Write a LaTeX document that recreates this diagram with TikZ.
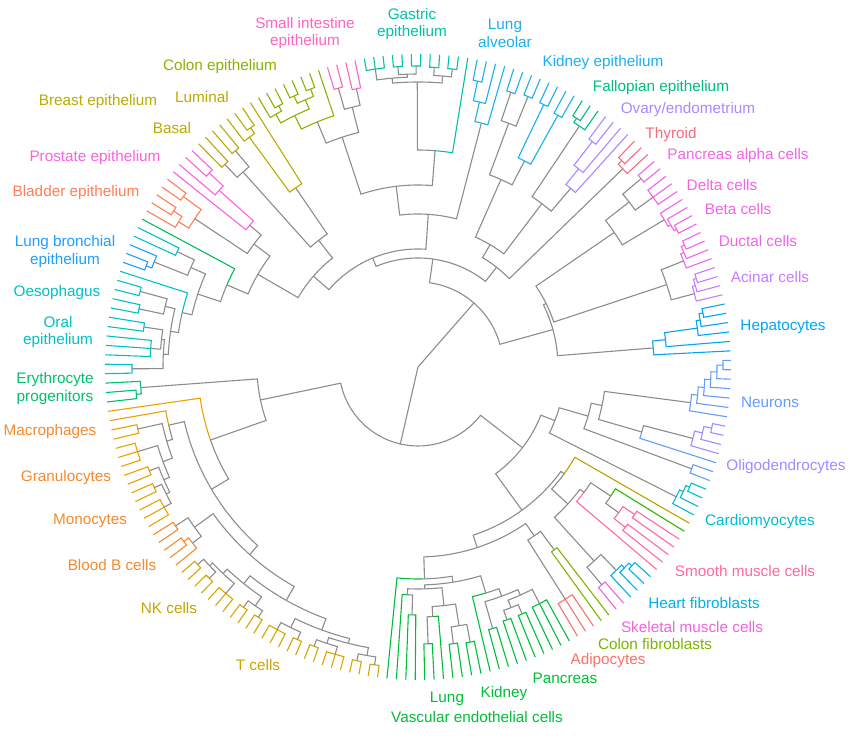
\documentclass[tikz,border=0pt]{standalone}
\usepackage{fontspec}
\setmainfont{Liberation Sans}
\usetikzlibrary{positioning}

\definecolor{gry}{HTML}{8C8C8C}
\definecolor{vasc}{HTML}{00BE3A}
\definecolor{adipo}{HTML}{FA7268}
\definecolor{colfib}{HTML}{7CB400}
\definecolor{skel}{HTML}{F262DC}
\definecolor{heartf}{HTML}{00B2E6}
\definecolor{smooth}{HTML}{FF6A9A}
\definecolor{grnlf}{HTML}{2DB800}
\definecolor{olvlf}{HTML}{B5A400}
\definecolor{cardio}{HTML}{00BDD0}
\definecolor{neur}{HTML}{619CFF}
\definecolor{oligo}{HTML}{9B8FFF}
\definecolor{hep}{HTML}{00A6F5}
\definecolor{acin}{HTML}{C97BFF}
\definecolor{panc}{HTML}{F364E8}
\definecolor{thyr}{HTML}{F96A7C}
\definecolor{ovary}{HTML}{AA88FF}
\definecolor{fallop}{HTML}{00BE7A}
\definecolor{kid}{HTML}{1AB0EE}
\definecolor{gast}{HTML}{00C2A8}
\definecolor{sint}{HTML}{FF64C0}
\definecolor{colep}{HTML}{8AB200}
\definecolor{breast}{HTML}{BBAA00}
\definecolor{prost}{HTML}{FA62DF}
\definecolor{bladd}{HTML}{FF7D57}
\definecolor{grnsg}{HTML}{00BF5A}
\definecolor{oesoph}{HTML}{00C1C7}
\definecolor{bronch}{HTML}{1E9EFF}
\definecolor{ery}{HTML}{00C06E}
\definecolor{myel}{HTML}{E9A200}
\definecolor{myelab}{HTML}{F58A2C}
\definecolor{bcell}{HTML}{F58A2C}
\definecolor{nkt}{HTML}{D4A800}
\definecolor{nktlab}{HTML}{C8A400}

\newcommand\labfont{\fontsize{15.3}{17.5}\selectfont}

\newcommand\setnd[4]{%
  \expandafter\xdef\csname ndi-#1\endcsname{#2}%
  \expandafter\xdef\csname ndr-#1\endcsname{#3}%
  \expandafter\xdef\csname ndc-#1\endcsname{#4}}
\newcommand\ndI[1]{\csname ndi-#1\endcsname}
\newcommand\ndR[1]{\csname ndr-#1\endcsname}
\newcommand\ndC[1]{\csname ndc-#1\endcsname}
\newcommand\rootcol[2]{\setnd{#1}{\ndI{#1}}{\ndR{#1}}{#2}}
\newcommand\leaves[3]{\foreach \dgk in {#1,...,#2}{\setnd{\dgk}{\dgk}{313}{#3}}}
\newcommand\edge[3]{%
  \pgfmathsetmacro\dgac{264.3+1.7308*(\ndI{#1})}%
  \pgfmathsetmacro\dgap{264.3+1.7308*(#2)}%
  \edef\dgrc{\ndR{#1}}\edef\dgec{\ndC{#1}}%
  \draw[draw=\dgec] (\dgac:\dgrc pt) -- (\dgac:#3pt)
    arc[start angle=\dgac, end angle=\dgap, radius=#3pt];}
\newcommand\jn[5]{%
  \pgfmathsetmacro\dgji{((\ndI{#2})+(\ndI{#3}))/2}%
  \edge{#2}{\dgji}{#4}\edge{#3}{\dgji}{#4}%
  \setnd{#1}{\dgji}{#4}{#5}}
\newcommand\comb[5]{%
  \pgfmathsetmacro\dgci{((#2)+(#3))/2}%
  \foreach \dgk in {#2,...,#3}{\edge{\dgk}{\dgci}{#4}}%
  \setnd{#1}{\dgci}{#4}{#5}}
\newcommand\catup[6]{%
  \pgfmathtruncatemacro\dgcb{#2+1}%
  \jn{#1}{#2}{\dgcb}{#4}{#6}%
  \pgfmathtruncatemacro\dgcs{#2+2}%
  \foreach \dgk [count=\dgn] in {\dgcs,...,#3}{%
    \pgfmathsetmacro\dgcr{#4-\dgn*#5}%
    \jn{#1}{#1}{\dgk}{\dgcr}{#6}}}
\newcommand\catdn[6]{%
  \pgfmathtruncatemacro\dgcb{#3-1}%
  \jn{#1}{\dgcb}{#3}{#4}{#6}%
  \pgfmathtruncatemacro\dgcs{#3-2}%
  \foreach \dgk [count=\dgn] in {\dgcs,...,#2}{%
    \pgfmathsetmacro\dgcr{#4-\dgn*#5}%
    \jn{#1}{\dgk}{#1}{\dgcr}{#6}}}
\newcommand\redge[1]{%
  \pgfmathsetmacro\dgac{264.3+1.7308*(\ndI{#1})}%
  \draw[gry] (\dgac:\ndR{#1}pt) -- (0,0);}

\begin{document}
\begin{tikzpicture}[
        x=1pt, y=1pt, line width=1.1pt,
        lab/.style = {font=\labfont, align=center, inner sep=0pt}
        ]
\path[use as bounding box] (0,0) rectangle (852,742);
\begin{scope}[shift={(418,375)}]
\leaves{0}{20}{vasc}
\leaves{21}{23}{adipo}
\leaves{24}{25}{colfib}
\leaves{26}{27}{skel}
\leaves{28}{31}{heartf}
\leaves{32}{36}{smooth}
\setnd{37}{37}{313}{grnlf}
\setnd{38}{38}{313}{olvlf}
\leaves{39}{42}{cardio}
\leaves{43}{45}{neur}
\leaves{46}{49}{oligo}
\leaves{50}{56}{neur}
\leaves{57}{62}{hep}
\leaves{63}{66}{acin}
\leaves{67}{79}{panc}
\leaves{80}{82}{thyr}
\leaves{83}{86}{ovary}
\leaves{87}{89}{fallop}
\leaves{90}{101}{kid}
\leaves{102}{113}{gast}
\leaves{114}{117}{sint}
\leaves{118}{125}{colep}
\leaves{126}{133}{breast}
\leaves{134}{137}{prost}
\leaves{138}{142}{bladd}
\setnd{143}{143}{313}{grnsg}
\leaves{144}{145}{oesoph}
\leaves{146}{148}{bronch}
\leaves{149}{160}{oesoph}
\leaves{-47}{-45}{ery}
\leaves{-44}{-31}{myel}
\leaves{-30}{-26}{bcell}
\leaves{-25}{-1}{nkt}

\jn{vg1}{2}{3}{248}{gry}
\jn{vg2}{4}{5}{277}{gry}
\jn{vg3}{7}{8}{279}{gry}
\jn{vg4}{9}{10}{280}{gry}
\jn{vg5}{12}{13}{272}{gry}
\jn{vg6}{14}{15}{268}{gry}
\jn{vg7}{16}{17}{268}{gry}
\comb{vg8}{18}{20}{266}{gry}
\jn{w1}{1}{vg1}{228}{gry}
\jn{w2}{vg2}{6}{250}{gry}
\jn{w3}{vg3}{vg4}{262}{gry}
\jn{w4}{w2}{w3}{240}{gry}
\jn{w5}{w1}{w4}{222}{gry}
\jn{x1}{vg6}{vg7}{258}{gry}
\jn{x2}{x1}{vg8}{250}{gry}
\jn{x3}{vg5}{x2}{244}{gry}
\jn{x4}{11}{x3}{236}{gry}
\jn{v1b}{w5}{x4}{218}{gry}
\jn{v1}{0}{v1b}{212}{gry}
\comb{adp}{21}{23}{275}{gry}
\jn{cfb}{24}{25}{228}{gry}
\jn{v2}{adp}{cfb}{205}{gry}
\jn{vv}{v1}{v2}{190}{gry}

\jn{sk}{26}{27}{285}{gry}
\catdn{hf}{28}{31}{292}{4}{heartf}\rootcol{hf}{gry}
\jn{y1}{sk}{hf}{262}{gry}
\jn{sma}{33}{34}{262}{smooth}
\jn{smb}{35}{36}{262}{smooth}
\jn{smc}{sma}{smb}{248}{gry}
\jn{smd}{smc}{37}{232}{gry}
\jn{sm}{32}{smd}{208}{gry}
\jn{y3}{y1}{sm}{203}{gry}
\jn{fm}{y3}{38}{181}{gry}
\jn{nB2a}{vv}{fm}{177}{gry}

\catdn{cd}{39}{42}{297}{4}{cardio}\rootcol{cd}{gry}
\jn{bp}{43}{44}{292}{gry}
\catdn{oli}{46}{49}{300}{8}{oligo}\rootcol{oli}{gry}
\jn{ol}{45}{oli}{233}{gry}
\catdn{neu}{50}{56}{305}{6}{neur}\rootcol{neu}{gry}
\jn{no}{ol}{neu}{188}{gry}
\jn{n1}{bp}{no}{177}{gry}
\jn{nB2b}{cd}{n1}{147}{gry}
\jn{nB2}{nB2a}{nB2b}{132}{gry}

\jn{e1}{-46}{-45}{283}{ery}
\jn{ery}{-47}{e1}{278}{gry}
\jn{o1}{-42}{-41}{287}{gry}
\comb{o2}{-40}{-38}{293}{gry}
\jn{o3}{-37}{-36}{288}{gry}
\jn{o4}{-35}{-34}{290}{gry}
\comb{o5}{-33}{-31}{290}{gry}
\jn{ga}{o4}{o5}{282}{gry}
\jn{gb}{o3}{ga}{278}{gry}
\jn{gc}{o2}{gb}{272}{gry}
\jn{gm}{o1}{gc}{262}{gry}
\jn{my}{-43}{gm}{256}{gry}
\jn{bc1}{-30}{-29}{290}{gry}
\jn{bc2}{-28}{-27}{292}{bcell}
\jn{bc3}{bc2}{-26}{286}{gry}
\jn{bcc}{bc1}{bc3}{275}{gry}
\jn{c1}{-25}{-24}{296}{gry}
\jn{c2}{-23}{-22}{297}{gry}
\comb{c3}{-21}{-19}{297}{gry}
\jn{c4}{-18}{-17}{297}{gry}
\jn{c5}{-16}{-15}{297}{gry}
\comb{c6}{-14}{-12}{298}{gry}
\jn{c7}{-11}{-10}{298}{gry}
\jn{c8}{-9}{-8}{298}{gry}
\comb{c9}{-7}{-5}{299}{gry}
\jn{c10}{-4}{-3}{300}{gry}
\jn{c11}{-2}{-1}{301}{gry}
\jn{t1}{c1}{c2}{288}{gry}
\jn{t2}{t1}{c3}{284}{gry}
\jn{t3}{c4}{c5}{289}{gry}
\jn{t4}{t2}{t3}{278}{gry}
\jn{t5}{c6}{c7}{290}{gry}
\jn{t6}{c8}{c9}{291}{gry}
\jn{t7}{c10}{c11}{293}{gry}
\jn{t8}{t6}{t7}{285}{gry}
\jn{t9}{t5}{t8}{280}{gry}
\jn{nkt}{t4}{t9}{268}{gry}
\jn{ly}{bcc}{nkt}{252}{gry}
\jn{m2}{my}{ly}{240}{gry}
\jn{mm}{-44}{m2}{220}{gry}
\jn{nB1}{ery}{mm}{161}{gry}
\jn{nB}{nB1}{nB2}{79}{gry}

\catdn{h3}{59}{62}{290}{4}{hep}
\jn{h2}{58}{h3}{249}{hep}
\jn{hp}{57}{h2}{236}{gry}
\catdn{ac}{63}{66}{292}{3}{acin}\rootcol{ac}{gry}
\catdn{du}{67}{70}{293}{3.5}{panc}\rootcol{du}{gry}
\catup{be}{71}{74}{293}{3}{panc}\rootcol{be}{gry}
\comb{de}{75}{77}{290}{gry}
\jn{al}{78}{79}{292}{gry}
\jn{pa1}{de}{al}{268}{gry}
\jn{pa2}{be}{pa1}{238}{gry}
\jn{pb1}{ac}{du}{262}{gry}
\jn{pn}{pb1}{pa2}{143}{gry}
\jn{nA2}{hp}{pn}{140}{gry}

\catdn{thy}{80}{82}{290}{5}{thyr}\rootcol{thy}{gry}
\jn{ova}{85}{86}{285}{ovary}
\jn{ovb}{84}{ova}{255}{ovary}
\jn{ov}{83}{ovb}{235}{gry}
\catdn{fa}{87}{89}{295}{5}{fallop}\rootcol{fa}{gry}
\jn{of}{ov}{fa}{205}{gry}
\jn{k1}{96}{97}{290}{gry}
\jn{k2}{94}{95}{292}{gry}
\jn{k3}{92}{93}{291}{kid}
\jn{k4}{90}{91}{288}{kid}
\jn{kda}{k4}{k3}{232}{gry}
\jn{kdb}{k2}{k1}{260}{gry}
\jn{kd}{kda}{kdb}{205}{gry}
\jn{kk}{of}{kd}{142}{gry}
\jn{nA1b}{thy}{kk}{127}{gry}

\catdn{la}{98}{101}{292}{20}{kid}\rootcol{la}{gry}
\jn{gp1}{103}{104}{300}{gry}
\jn{gp2}{105}{106}{300}{gry}
\jn{gp3}{107}{108}{301}{gry}
\jn{gp4}{109}{110}{301}{gry}
\comb{gp5}{111}{113}{301}{gry}
\jn{gq1}{gp1}{gp2}{292}{gry}
\jn{gq2}{gp3}{gp4}{293}{gry}
\jn{gq3}{gq2}{gp5}{290}{gry}
\jn{gq4}{gq1}{gq3}{285}{gry}
\jn{gt}{gq4}{102}{217}{gry}
\jn{si1}{114}{115}{285}{gry}
\jn{si2}{116}{117}{290}{gry}
\jn{si}{si1}{si2}{268}{gry}
\jn{ca}{119}{120}{298}{colep}
\jn{cb}{121}{122}{298}{colep}
\jn{cc}{123}{124}{296}{colep}
\jn{cdd}{cc}{125}{290}{colep}
\jn{ce}{ca}{cb}{290}{colep}
\jn{cf}{ce}{cdd}{280}{colep}
\jn{co}{118}{cf}{265}{gry}
\jn{sc}{si}{co}{242}{gry}
\jn{g1}{gt}{sc}{182}{gry}
\jn{gg}{la}{g1}{153}{gry}

\jn{lu1}{127}{128}{292}{breast}
\jn{lu2}{lu1}{129}{285}{breast}
\jn{lu}{126}{lu2}{217}{gry}
\jn{ba1}{130}{131}{283}{gry}
\jn{ba2}{132}{133}{280}{gry}
\jn{ba}{ba1}{ba2}{262}{gry}
\jn{br}{lu}{ba}{161}{gry}
\jn{pr1}{134}{135}{285}{prost}
\jn{pr2}{pr1}{136}{266}{prost}
\jn{pr}{pr2}{137}{220}{gry}
\jn{bl1}{138}{139}{290}{bladd}
\jn{bl2}{140}{141}{290}{bladd}
\jn{bl3}{bl2}{142}{280}{bladd}
\jn{bl}{bl1}{bl3}{268}{gry}
\jn{pb}{pr}{bl}{205}{gry}
\jn{tb1}{144}{145}{267}{gry}
\jn{bb1}{147}{148}{290}{bronch}
\jn{bb}{146}{bb1}{284}{gry}
\jn{tb2}{tb1}{bb}{248}{gry}
\jn{oa}{150}{151}{288}{gry}
\jn{ob}{152}{153}{285}{gry}
\jn{oc}{154}{155}{277}{gry}
\comb{od}{156}{158}{268}{gry}
\jn{oe}{159}{160}{286}{gry}
\jn{of1}{oa}{ob}{260}{gry}
\jn{of2}{oc}{od}{258}{gry}
\jn{of3}{of2}{oe}{255}{gry}
\jn{of4}{of1}{of3}{250}{gry}
\jn{oo}{149}{of4}{242}{gry}
\jn{tb3}{tb2}{oo}{232}{gry}
\jn{gtb}{143}{tb3}{208}{gry}
\jn{e2}{pb}{gtb}{185}{gry}
\jn{ee}{br}{e2}{138.5}{gry}
\jn{nA1a}{ee}{gg}{118}{gry}
\jn{nA1}{nA1a}{nA1b}{109}{gry}
\jn{nA}{nA1}{nA2}{85}{gry}
\redge{nA}
\redge{nB}
\end{scope}

\node[lab, text=sint] (lsint) at (305,709) {Small intestine\\epithelium};
\node[lab, text=gast] (lgast) at (412,718) {Gastric\\epithelium};
\node[lab, text=kid] (lalv) at (505,708.5) {Lung\\alveolar};
\node[lab, text=kid] (lkid) at (603,679) {Kidney epithelium};
\node[lab, text=fallop] (lfal) at (661,654) {Fallopian epithelium};
\node[lab, text=ovary] (lova) at (688,632) {Ovary/endometrium};
\node[lab, text=thyr] (lthy) at (671,607) {Thyroid};
\node[lab, text=panc] (lalpha) at (738,586) {Pancreas alpha cells};
\node[lab, text=panc] (ldelta) at (722,557) {Delta cells};
\node[lab, text=panc] (lbeta) at (738,533) {Beta cells};
\node[lab, text=panc] (lduct) at (758,501) {Ductal cells};
\node[lab, text=acin] (lacin) at (770,465) {Acinar cells};
\node[lab, text=hep] (lhep) at (783,415) {Hepatocytes};
\node[lab, text=neur] (lneur) at (770,340) {Neurons};
\node[lab, text=oligo] (loli) at (786,275) {Oligodendrocytes};
\node[lab, text=cardio] (lcard) at (760,220) {Cardiomyocytes};
\node[lab, text=smooth] (lsmo) at (745,171) {Smooth muscle cells};
\node[lab, text=heartf] (lhf) at (704,139) {Heart fibroblasts};
\node[lab, text=skel] (lskel) at (692,115) {Skeletal muscle cells};
\node[lab, text=colfib] (lcfib) at (655,98) {Colon fibroblasts};
\node[lab, text=adipo] (ladip) at (608,81) {Adipocytes};
\node[lab, text=vasc] (lvpanc) at (565,64) {Pancreas};
\node[lab, text=vasc] (lvkid) at (504,48) {Kidney};
\node[lab, text=vasc] (lvlung) at (447,43) {Lung};
\node[lab, text=vasc] (lvasc) at (477,25) {Vascular endothelial cells};
\node[lab, text=nktlab] (ltc) at (258,77) {T cells};
\node[lab, text=nktlab] (lnk) at (169,134) {NK cells};
\node[lab, text=myelab] (lbc) at (112,177) {Blood B cells};
\node[lab, text=myelab] (lmono) at (90,221) {Monocytes};
\node[lab, text=myelab] (lgran) at (66,264) {Granulocytes};
\node[lab, text=myelab] (lmac) at (50,310) {Macrophages};
\node[lab, text=ery] (lery) at (55,353.5) {Erythrocyte\\progenitors};
\node[lab, text=oesoph] (loral) at (58,410) {Oral\\epithelium};
\node[lab, text=oesoph] (loes) at (57,449) {Oesophagus};
\node[lab, text=bronch] (lbron) at (65,490.5) {Lung bronchial\\epithelium};
\node[lab, text=bladd] (lblad) at (76,549) {Bladder epithelium};
\node[lab, text=prost] (lpros) at (95,584) {Prostate epithelium};
\node[lab, text=breast] (lbasal) at (172,614) {Basal};
\node[lab, text=breast] (lbreast) at (98,640) {Breast epithelium};
\node[lab, text=breast] (llum) at (202,645) {Luminal};
\node[lab, text=colep] (lcolep) at (220,675) {Colon epithelium};
\end{tikzpicture}
\end{document}
